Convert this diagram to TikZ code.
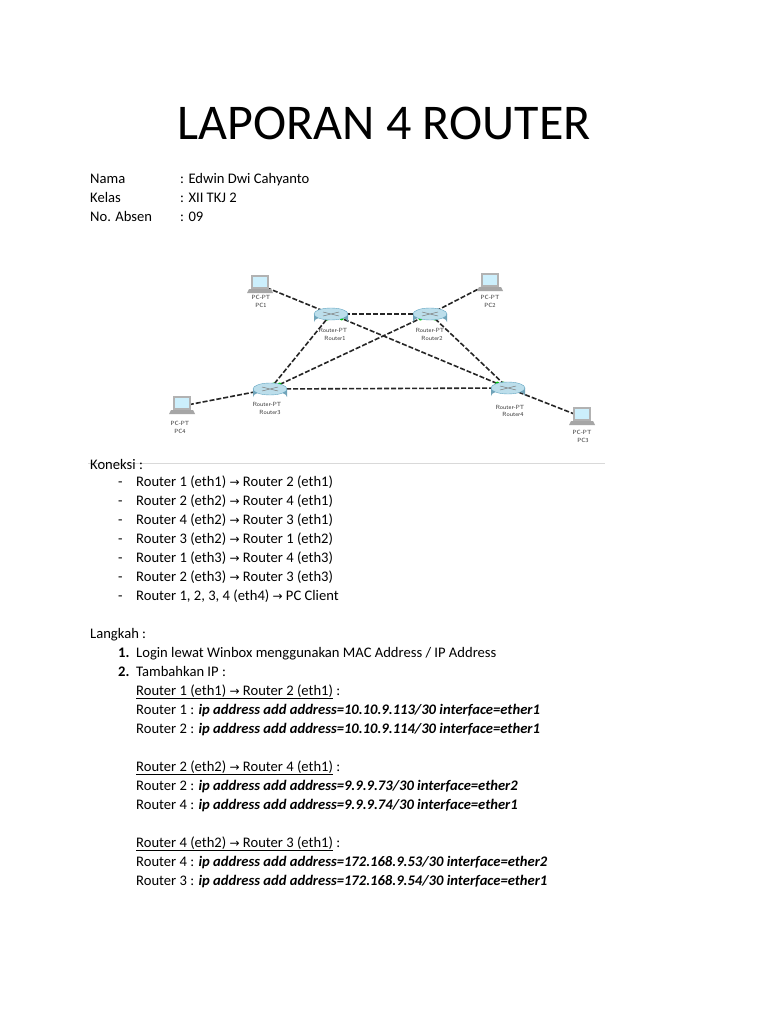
\documentclass[tikz,border=0pt]{standalone}
\usepackage{fontspec}
\setmainfont{Carlito}
\newfontfamily\arrowfont{DejaVu Sans}
\newcommand{\arr}{{\arrowfont\fontsize{12}{14}\selectfont →}}
\begin{document}
\begin{tikzpicture}[x=1pt,y=-1pt,
  txt/.style={anchor=base west,inner sep=0pt,font=\fontsize{14.6}{19}\selectfont},
  lbl/.style={inner sep=0pt,font=\sffamily\fontsize{6}{7}\selectfont,text=black!80},
  link/.style={draw=black!85,line width=1.6pt,dash pattern=on 5pt off 2pt},
  gdot/.style={circle,fill=green!80!black,inner sep=0pt,minimum size=4pt},
  router/.pic={
    \fill[cyan!40!gray] (-17,0) -- (-17,8) arc[start angle=180,end angle=360,x radius=17,y radius=6] -- (17,0) -- cycle;
    \fill[cyan!25!white!85!gray,draw=cyan!50!gray,line width=0.4pt] (0,0) ellipse[x radius=17,y radius=6];
    \draw[gray,line width=0.5pt] (-8,-2)--(8,2) (-8,2)--(8,-2);
  },
  pc/.pic={
    \fill[gray!60] (-9,-10) rectangle (9,4);
    \fill[cyan!20] (-7,-8) rectangle (7,2);
    \fill[gray!70] (-11,4) -- (11,4) -- (13,8) -- (-13,8) -- cycle;
  }]
\useasboundingbox (0,0) rectangle (768,1024);
\fill[white] (0,0) rectangle (768,1024);
\node[anchor=base,inner sep=0pt,font=\fontsize{50}{60}\selectfont] (title) at (384,140) {LAPORAN 4 ROUTER};

\node[txt] (l1) at (90,184) {Nama}; \node[txt] (v1) at (180,184) {: Edwin Dwi Cahyanto};
\node[txt] (l2) at (90,203) {Kelas}; \node[txt] (v2) at (180,203) {: XII TKJ 2};
\node[txt] (l3) at (90,222) {No. Absen}; \node[txt] (v3) at (180,222) {: 09};

% network
\coordinate (R1) at (331,314); \coordinate (R2) at (430,314);
\coordinate (R3) at (270,389); \coordinate (R4) at (508,388);
\coordinate (P1) at (260,285); \coordinate (P2) at (490,283);
\coordinate (P3) at (582,417); \coordinate (P4) at (182,406);
\foreach \a/\b in {R1/R2,R2/R4,R4/R3,R3/R1,R1/R4,R2/R3,P1/R1,P2/R2,P3/R4,P4/R3}{
  \path[link] (\a) -- (\b) node[gdot,pos=0.06]{} node[gdot,pos=0.94]{};
}
\foreach \r in {R1,R2,R3,R4} \pic at (\r) {router};
\foreach \p in {P1,P2,P3,P4} \pic at (\p) {pc};
\node[lbl] (r1a) at (333,330) {Router-PT}; \node[lbl] (r1b) at (335,338) {Router1};
\node[lbl] (r2a) at (430,330) {Router-PT}; \node[lbl] (r2b) at (432,338) {Router2};
\node[lbl] (r3a) at (267,404) {Router-PT}; \node[lbl] (r3b) at (270,412) {Router3};
\node[lbl] (r4a) at (510,407) {Router-PT}; \node[lbl] (r4b) at (513,414) {Router4};
\node[lbl] (p1a) at (261,297) {PC-PT}; \node[lbl] (p1b) at (261,305) {PC1};
\node[lbl] (p2a) at (490,297) {PC-PT}; \node[lbl] (p2b) at (490,305) {PC2};
\node[lbl] (p4a) at (180,423) {PC-PT}; \node[lbl] (p4b) at (180,431) {PC4};
\node[lbl] (p3a) at (582,432) {PC-PT}; \node[lbl] (p3b) at (583,440) {PC3};
\draw[gray!30,line width=0.8pt] (88,463) -- (605,463);

\node[txt] (kon) at (90,469) {Koneksi :};
\foreach \i/\t in {0/{Router 1 (eth1) \arr{} Router 2 (eth1)},1/{Router 2 (eth2) \arr{} Router 4 (eth1)},2/{Router 4 (eth2) \arr{} Router 3 (eth1)},3/{Router 3 (eth2) \arr{} Router 1 (eth2)},4/{Router 1 (eth3) \arr{} Router 4 (eth3)},5/{Router 2 (eth3) \arr{} Router 3 (eth3)},6/{Router 1, 2, 3, 4 (eth4) \arr{} PC Client}}{
  \node[txt] (d\i) at (118,486+19*\i) {-};
  \node[txt] (k\i) at (136,486+19*\i) {\t};
}
\node[txt] (lang) at (90,638) {Langkah :};
\node[txt] (n1) at (118,657) {\textbf{1.}}; \node[txt] (s1) at (136,657) {Login lewat Winbox menggunakan MAC Address / IP Address};
\node[txt] (n2) at (118,676) {\textbf{2.}}; \node[txt] (s2) at (136,676) {Tambahkan IP :};
\node[txt] (h1) at (136,695) {\underline{Router 1 (eth1) \arr{} Router 2 (eth1)} :};
\node[txt] (c1) at (136,714) {Router 1 : \textbf{\textit{ip address add address=10.10.9.113/30 interface=ether1}}};
\node[txt] (c2) at (136,733) {Router 2 : \textbf{\textit{ip address add address=10.10.9.114/30 interface=ether1}}};
\node[txt] (h2) at (136,771) {\underline{Router 2 (eth2) \arr{} Router 4 (eth1)} :};
\node[txt] (c3) at (136,790) {Router 2 : \textbf{\textit{ip address add address=9.9.9.73/30 interface=ether2}}};
\node[txt] (c4) at (136,809) {Router 4 : \textbf{\textit{ip address add address=9.9.9.74/30 interface=ether1}}};
\node[txt] (h3) at (136,847) {\underline{Router 4 (eth2) \arr{} Router 3 (eth1)} :};
\node[txt] (c5) at (136,866) {Router 4 : \textbf{\textit{ip address add address=172.168.9.53/30 interface=ether2}}};
\node[txt] (c6) at (136,885) {Router 3 : \textbf{\textit{ip address add address=172.168.9.54/30 interface=ether1}}};
\end{tikzpicture}
\end{document}
